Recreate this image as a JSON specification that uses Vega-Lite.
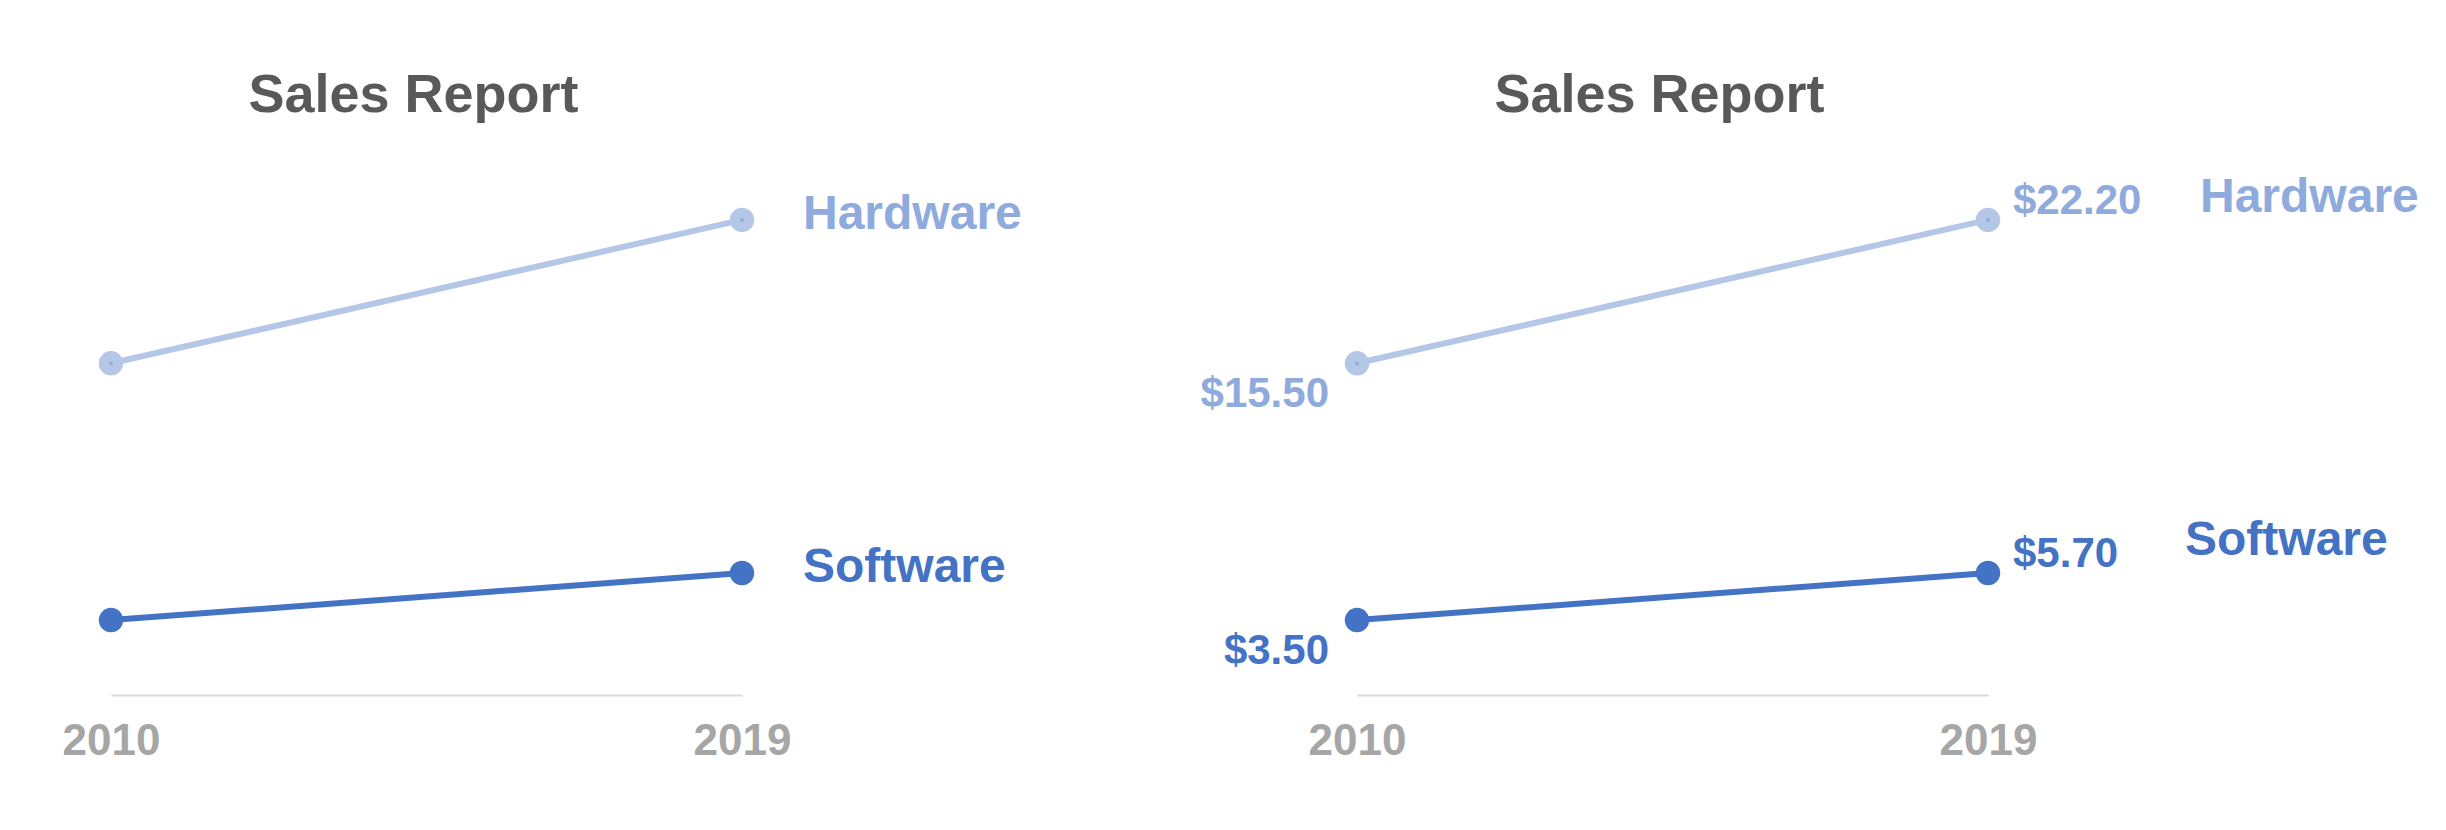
{
  "$schema": "https://vega.github.io/schema/vega-lite/v6.json",
  "background": "white",
  "padding": {"left": 62, "top": 69, "right": 0, "bottom": 0},
  "spacing": 178,
  "data": {
    "values": [
      {"series": "Hardware", "year": "2010", "sales": 15.5},
      {"series": "Hardware", "year": "2019", "sales": 22.2},
      {"series": "Software", "year": "2010", "sales": 3.5},
      {"series": "Software", "year": "2019", "sales": 5.7}
    ]
  },
  "config": {
    "view": {"stroke": null},
    "font": "Liberation Sans",
    "title": {"fontSize": 54, "fontWeight": "bold", "color": "#595959", "font": "Liberation Sans", "baseline": "alphabetic", "offset": 37, "frame": "group", "anchor": "middle", "dx": -13},
    "axisX": {
      "title": null, "labelAngle": 0, "labelFont": "Liberation Sans", "labelFontSize": 44, "labelFontWeight": "bold",
      "labelColor": "#A6A6A6", "ticks": false, "tickSize": 0, "labelPadding": 24,
      "domainColor": "#D9D9D9", "domainWidth": 2, "grid": false
    }
  },
  "hconcat": [
    {
      "title": "Sales Report",
      "width": 631,
      "height": 535,
      "encoding": {
        "x": {"field": "year", "type": "ordinal", "scale": {"type": "point", "padding": 0}},
        "y": {"field": "sales", "type": "quantitative", "scale": {"domain": [0, 25]}, "axis": null}
      },
      "layer": [
        {
          "mark": {"type": "line", "strokeWidth": 6},
          "encoding": {"color": {"field": "series", "type": "nominal", "scale": {"domain": ["Hardware", "Software"], "range": ["#B4C7E7", "#4472C4"]}, "legend": null}}
        },
        {
          "mark": {"type": "circle", "size": 600, "opacity": 1},
          "encoding": {"color": {"field": "series", "type": "nominal", "legend": null}}
        },
        {
          "mark": {"type": "circle", "size": 14, "opacity": 1},
          "encoding": {"color": {"condition": {"test": "datum.series === 'Hardware'", "value": "#8FAADC"}, "value": "#4472C4"}}
        },
        {
          "transform": [{"filter": "datum.year === '2019'"}],
          "mark": {"type": "text", "align": "left", "baseline": "alphabetic", "dx": 61, "dy": 9, "fontSize": 48, "fontWeight": "bold", "font": "Liberation Sans"},
          "encoding": {
            "text": {"field": "series"},
            "color": {"condition": {"test": "datum.series === 'Hardware'", "value": "#8FAADC"}, "value": "#4472C4"}
          }
        }
      ]
    },
    {
      "title": "Sales Report",
      "width": 631,
      "height": 535,
      "encoding": {
        "x": {"field": "year", "type": "ordinal", "scale": {"type": "point", "padding": 0}},
        "y": {"field": "sales", "type": "quantitative", "scale": {"domain": [0, 25]}, "axis": null}
      },
      "layer": [
        {
          "mark": {"type": "line", "strokeWidth": 6},
          "encoding": {"color": {"field": "series", "type": "nominal", "scale": {"domain": ["Hardware", "Software"], "range": ["#B4C7E7", "#4472C4"]}, "legend": null}}
        },
        {
          "mark": {"type": "circle", "size": 600, "opacity": 1},
          "encoding": {"color": {"field": "series", "type": "nominal", "legend": null}}
        },
        {
          "mark": {"type": "circle", "size": 14, "opacity": 1},
          "encoding": {"color": {"condition": {"test": "datum.series === 'Hardware'", "value": "#8FAADC"}, "value": "#4472C4"}}
        },
        {
          "transform": [{"filter": "datum.year === '2019'"}],
          "mark": {"type": "text", "align": "left", "baseline": "alphabetic", "dx": 25, "dy": -6, "fontSize": 42, "fontWeight": "bold", "font": "Liberation Sans"},
          "encoding": {
            "text": {"field": "sales", "type": "quantitative", "format": "$.2f"},
            "color": {"condition": {"test": "datum.series === 'Hardware'", "value": "#8FAADC"}, "value": "#4472C4"}
          }
        },
        {
          "transform": [{"filter": "datum.year === '2010'"}],
          "mark": {"type": "text", "align": "right", "baseline": "alphabetic", "dx": -28, "dy": 44, "fontSize": 42, "fontWeight": "bold", "font": "Liberation Sans"},
          "encoding": {
            "text": {"field": "sales", "type": "quantitative", "format": "$.2f"},
            "color": {"condition": {"test": "datum.series === 'Hardware'", "value": "#8FAADC"}, "value": "#4472C4"}
          }
        },
        {
          "transform": [{"filter": "datum.year === '2019' && datum.series === 'Hardware'"}],
          "mark": {"type": "text", "align": "left", "baseline": "alphabetic", "dx": 212, "dy": -8, "fontSize": 48, "fontWeight": "bold", "font": "Liberation Sans", "color": "#8FAADC"},
          "encoding": {"text": {"field": "series"}}
        },
        {
          "transform": [{"filter": "datum.year === '2019' && datum.series === 'Software'"}],
          "mark": {"type": "text", "align": "left", "baseline": "alphabetic", "dx": 197, "dy": -18, "fontSize": 48, "fontWeight": "bold", "font": "Liberation Sans", "color": "#4472C4"},
          "encoding": {"text": {"field": "series"}}
        }
      ]
    }
  ]
}
